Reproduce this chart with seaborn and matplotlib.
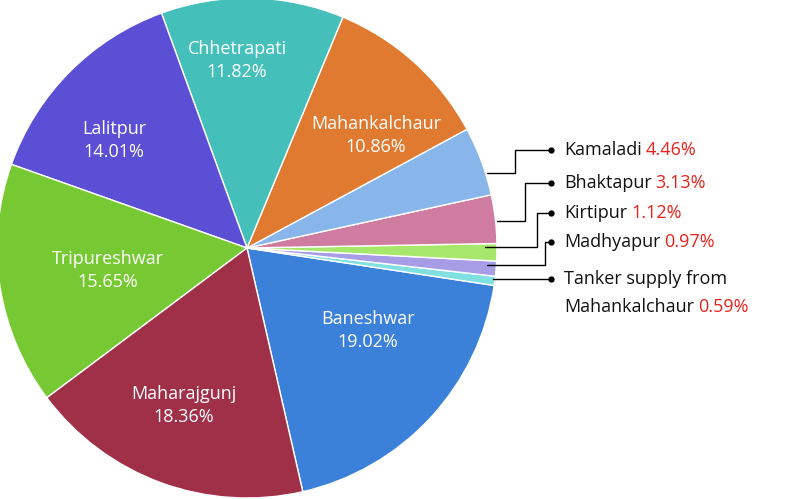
import matplotlib
matplotlib.use("Agg")
import matplotlib.pyplot as plt
import seaborn as sns

sns.set_theme(style="white")
plt.rcParams['font.family'] = ['Open Sans', 'DejaVu Sans']

# Data (counterclockwise from Baneshwar)
names = ["Baneshwar", "Tanker supply from\nMahankalchaur", "Madhyapur", "Kirtipur", "Bhaktapur",
         "Kamaladi", "Mahankalchaur", "Chhetrapati", "Lalitpur", "Tripureshwar", "Maharajgunj"]
shares = [19.02, 0.59, 0.97, 1.12, 3.13, 4.46, 10.86, 11.82, 14.01, 15.65, 18.36]
colors = ["#3b80d9", "#80dfe0", "#a79de6", "#a7e86c", "#d07ca1", "#88b6ea",
          "#e07a31", "#44bfba", "#5b4fd6", "#76c933", "#a02f48"]

fig = plt.figure(figsize=(8, 4.99), dpi=100)
ax = fig.add_axes([-3 / 800, 1 / 499, 500 / 800, 500 / 499])
ax.pie(shares, colors=colors, startangle=-77.1, counterclock=True,
       wedgeprops=dict(edgecolor="white", linewidth=1))
ax.set_xlim(-1, 1)
ax.set_ylim(-1, 1)
ax.set_aspect("equal")
ax.axis("off")

# labels inside big slices
inside = {"Chhetrapati": (-0.04, 0.75), "Mahankalchaur": (0.516, 0.45),
          "Lalitpur": (-0.532, 0.43), "Tripureshwar": (-0.556, -0.09),
          "Maharajgunj": (-0.252, -0.63), "Baneshwar": (0.484, -0.33)}
for n, s in zip(names, shares):
    if n in inside:
        x, y = inside[n]
        ax.text(x, y, f"{n}\n{s:.2f}%", color="white", fontsize=13,
                ha="center", va="center", linespacing=1.3)

# callouts for small slices: (text y, elbow x, slice y, end x)
callouts = {"Kamaladi": (0.392, 1.072, 0.30, 0.96),
            "Bhaktapur": (0.26, 1.112, 0.108, 1.0),
            "Kirtipur": (0.14, 1.16, 0.004, 0.95),
            "Madhyapur": (0.024, 1.192, -0.068, 0.96),
            "Tanker supply from\nMahankalchaur": (-0.124, None, -0.124, 0.985)}
fig.canvas.draw()
r = fig.canvas.get_renderer()
tx = 1.268
for n, s in zip(names, shares):
    if n not in callouts:
        continue
    ty, ex, sy, endx = callouts[n]
    dot = 1.216
    if ex is None:
        ax.plot([dot, endx], [ty, sy], color="black", lw=1, clip_on=False)
    else:
        ax.plot([dot, ex, ex, endx], [ty, ty, sy, sy], color="black", lw=1, clip_on=False)
    ax.plot([dot], [ty], "o", color="black", ms=3.5, clip_on=False)
    lines = n.split("\n")
    for i, line in enumerate(lines):
        ly = ty - 0.112 * i
        t = ax.text(tx, ly, line, fontsize=13, ha="left", va="center",
                    color="#111111", clip_on=False)
        if i == len(lines) - 1:
            bb = t.get_window_extent(r)
            xd = ax.transData.inverted().transform((bb.x1 + 4, 0))[0]
            ax.text(xd, ly, f"{s:.2f}%", fontsize=13, color="#e8221b",
                    ha="left", va="center", clip_on=False)

fig.savefig("out.png", dpi=100)
